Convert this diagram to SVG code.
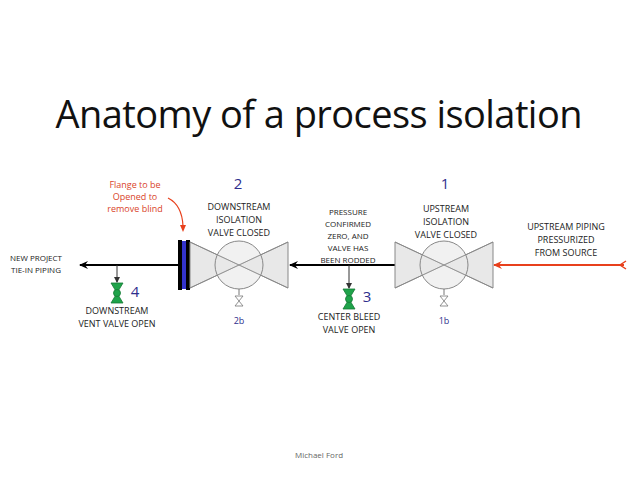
<svg xmlns="http://www.w3.org/2000/svg" width="638" height="478" viewBox="0 0 638 478">
<style>
text{font-family:"Open Sans","Liberation Sans",sans-serif;text-anchor:middle}
.l{font-size:9px;fill:#222}
.s{font-size:8px;fill:#222}
.n{font-size:15px;fill:#2e2e8c}
.v{fill:#e8e8e8;stroke:#888;stroke-width:1}
.g{fill:#1fa34a;stroke:#157a35;stroke-width:0.8}
.sv{fill:#fff;stroke:#777;stroke-width:0.8}
</style>
<defs>
<marker id="ab" markerWidth="9" markerHeight="8" refX="8" refY="4" orient="auto" markerUnits="userSpaceOnUse"><path d="M0,0L9,4L0,8L3,4z" fill="#000"/></marker>
<marker id="ar" markerWidth="9" markerHeight="8" refX="8" refY="4" orient="auto" markerUnits="userSpaceOnUse"><path d="M0,0L9,4L0,8L3,4z" fill="#e8401c"/></marker>
<marker id="sa" markerWidth="6" markerHeight="6" refX="5" refY="3" orient="auto" markerUnits="userSpaceOnUse"><path d="M0,0L6,3L0,6z" fill="#333"/></marker>
</defs>
<rect width="638" height="478" fill="#fff"/>
<text x="319" y="128" font-size="38" textLength="527" fill="#111">Anatomy of a process isolation</text>
<g id="connectors">
<line x1="178" y1="265" x2="80" y2="265" stroke="#000" stroke-width="2" marker-end="url(#ab)"/>
<line x1="395" y1="265" x2="290" y2="265" stroke="#000" stroke-width="2" marker-end="url(#ab)"/>
<line x1="624" y1="265" x2="494" y2="265" stroke="#e8401c" stroke-width="2" marker-end="url(#ar)"/>
<path d="M626,261L620,265L626,269" fill="none" stroke="#e8401c" stroke-width="1.5"/>
<line x1="117" y1="265" x2="117" y2="282" stroke="#333" stroke-width="1" marker-end="url(#sa)"/>
<line x1="349" y1="265" x2="349" y2="288" stroke="#333" stroke-width="1" marker-end="url(#sa)"/>
<path d="M168,198Q182,205 183,226" fill="none" stroke="#e8401c" stroke-width="1.2"/>
<path d="M180,225L183,232L186,225z" fill="#e8401c"/>
</g>
<g id="flange">
<rect x="178" y="240" width="4" height="50" fill="#000"/>
<rect x="182" y="241" width="5" height="48" fill="#3333cc"/>
<rect x="186" y="240" width="4" height="50" fill="#000"/>
<text x="135" y="188" class="l" style="fill:#d9442a">Flange to be</text>
<text x="135" y="200" class="l" style="fill:#d9442a">Opened to</text>
<text x="135" y="212" class="l" style="fill:#d9442a">remove blind</text>
</g>
<g id="valve2">
<path class="v" d="M190,242L239,265L190,288z"/>
<path class="v" d="M288,242L239,265L288,288z"/>
<circle cx="239" cy="265" r="24" class="v" fill-opacity="0.6"/>
<path d="M190,242L288,288M190,288L288,242" stroke="#888" stroke-width="0.8"/>
<text x="238" y="189" class="n">2</text>
<text x="239" y="210" class="l">DOWNSTREAM</text>
<text x="239" y="223" class="l">ISOLATION</text>
<text x="239" y="236" class="l">VALVE CLOSED</text>
</g>
<g id="valve2b">
<line x1="239" y1="289" x2="239" y2="295" stroke="#777"/>
<path class="sv" d="M235,296L243,296L235,306L243,306z"/>
<text x="239" y="324" class="l" style="fill:#2e2e8c">2b</text>
</g>
<g id="valve1">
<path class="v" d="M395,242L444,265L395,288z"/>
<path class="v" d="M493,242L444,265L493,288z"/>
<circle cx="444" cy="265" r="24" class="v" fill-opacity="0.6"/>
<path d="M395,242L493,288M395,288L493,242" stroke="#888" stroke-width="0.8"/>
<text x="445" y="189" class="n">1</text>
<text x="446" y="212" class="l">UPSTREAM</text>
<text x="446" y="225" class="l">ISOLATION</text>
<text x="446" y="238" class="l">VALVE CLOSED</text>
</g>
<g id="valve1b">
<line x1="444" y1="289" x2="444" y2="295" stroke="#777"/>
<path class="sv" d="M440,296L448,296L440,306L448,306z"/>
<text x="444" y="324" class="l" style="fill:#2e2e8c">1b</text>
</g>
<g id="valve4">
<path class="g" d="M111,283L123,283L117,293L123,303L111,303L117,293z"/>
<circle cx="117" cy="293" r="3.5" class="g"/>
<text x="135" y="297" class="n">4</text>
<text x="117" y="314" class="l">DOWNSTREAM</text>
<text x="117" y="327" class="l">VENT VALVE OPEN</text>
</g>
<g id="valve3">
<path class="g" d="M343,289L355,289L349,299L355,309L343,309L349,299z"/>
<circle cx="349" cy="299" r="3.5" class="g"/>
<text x="367" y="302" class="n">3</text>
<text x="349" y="320" class="l">CENTER BLEED</text>
<text x="349" y="333" class="l">VALVE OPEN</text>
</g>
<g id="pressure-note">
<text x="348" y="215" class="s">PRESSURE</text>
<text x="348" y="227" class="s">CONFIRMED</text>
<text x="348" y="239" class="s">ZERO, AND</text>
<text x="348" y="251" class="s">VALVE HAS</text>
<text x="348" y="263" class="s">BEEN RODDED</text>
</g>
<g id="labels">
<text x="36" y="261" class="s">NEW PROJECT</text>
<text x="36" y="273" class="s">TIE-IN PIPING</text>
<text x="566" y="230" class="l">UPSTREAM PIPING</text>
<text x="566" y="243" class="l">PRESSURIZED</text>
<text x="566" y="256" class="l">FROM SOURCE</text>
</g>
<text x="319" y="458" font-size="8" fill="#666">Michael Ford</text>
</svg>
